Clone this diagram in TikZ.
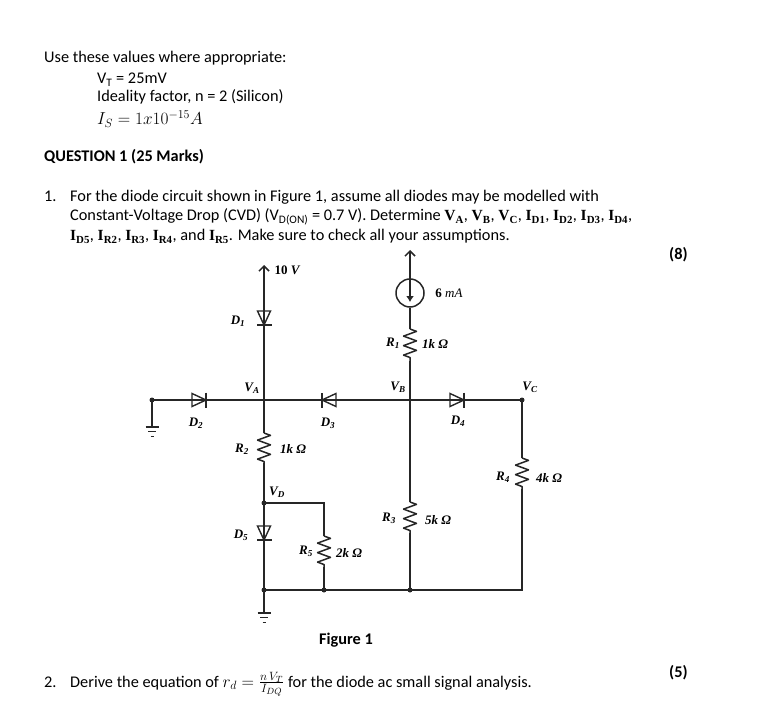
\documentclass[tikz,border=0pt]{standalone}
\usepackage{fontspec}
\setmainfont{Carlito}
\newfontfamily\serifbold{Liberation Serif}
\usetikzlibrary{arrows.meta,decorations.pathmorphing}
\newcommand{\sv}[2]{{\serifbold\bfseries\fontsize{15.5}{18}\selectfont #1\textsubscript{#2}}}
\newcommand{\lb}[2]{#1\textsubscript{#2}}
\tikzset{
    wire/.style={line width=1.5pt, black!85},
    res/.style={wire, line join=round, decorate, decoration={zigzag, segment length=9.5, amplitude=6.5}},
    up/.style={wire, -{Straight Barb[length=5pt, width=10pt]}},
    lbl/.style={inner sep=0pt, font=\serifbold\bfseries\itshape\fontsize{13}{15}\selectfont},
    txt/.style={inner sep=0pt, anchor=base west, font=\fontsize{16.3}{19}\selectfont},
    bold/.style={font=\bfseries\fontsize{16.3}{19}\selectfont},
    diode/.pic={
        \draw[line width=1.4pt, black!85] (-7,-6.5) -- (7,0) -- (-7,6.5) -- cycle;
        \draw[line width=1.6pt, black!85] (7,-7.5) -- (7,7.5);
    },
    earth/.pic={
        \draw[line width=1.3pt, black!85] (-6.5,0) -- (6.5,0);
        \draw[line width=1pt, black!85] (-4,4.5) -- (4,4.5);
        \draw[line width=1pt, black!85] (-1.5,9) -- (1.5,9);
    }
}
\begin{document}
\begin{tikzpicture}[x=1pt, y=-1pt]
    \useasboundingbox (0,0) rectangle (770,708);

    % Header text
    \node[txt] (t1) at (44,63) {Use these values where appropriate:};
    \node[txt] (t2) at (97,84) {V\textsubscript{T} = 25mV};
    \node[txt] (t3) at (97,102) {Ideality factor, n = 2 (Silicon)};
    \node[txt, font=\fontsize{17.5}{20}\selectfont] (t4) at (97,125) {$I_S = 1x10^{-15}A$};
    \node[txt, bold] (t5) at (44,162) {QUESTION 1 (25 Marks)};

    % Question 1
    \node[txt] (q1) at (44,202) {1.};
    \node[txt] (q1a) at (70,202) {For the diode circuit shown in Figure 1, assume all diodes may be modelled with};
    \node[txt] (q1b) at (70,221) {Constant-Voltage Drop (CVD) (V\textsubscript{D(ON)} = 0.7 V). Determine \sv{V}{A}, \sv{V}{B}, \sv{V}{C}, \sv{I}{D1}, \sv{I}{D2}, \sv{I}{D3}, \sv{I}{D4},};
    \node[txt] (q1c) at (70,241) {\sv{I}{D5}, \sv{I}{R2}, \sv{I}{R3}, \sv{I}{R4}, and \sv{I}{R5}. Make sure to check all your assumptions.};
    \node[txt, bold] (m8) at (669,260) {(8)};

    % Nodes of the circuit
    \coordinate (gl) at (152,400);
    \coordinate (gltop) at (152,427);
    \coordinate (va) at (264,400);
    \coordinate (vb) at (410,400);
    \coordinate (vc) at (522,400);
    \coordinate (vd) at (264,503);
    \coordinate (r5in) at (324,503);
    \coordinate (bl) at (264,590);
    \coordinate (bm) at (324,590);
    \coordinate (br) at (410,590);
    \coordinate (bc) at (522,590);
    \coordinate (gb) at (264,613);
    \coordinate (vdd) at (264,265);
    \coordinate (itop) at (410,250);
    \coordinate (iarrow) at (410,302);
    \coordinate (r1a) at (410,329);
    \coordinate (r1b) at (410,361);
    \coordinate (r2a) at (264,433);
    \coordinate (r2b) at (264,463);
    \coordinate (r3a) at (410,502);
    \coordinate (r3b) at (410,533);
    \coordinate (r4a) at (522,458);
    \coordinate (r4b) at (522,489);
    \coordinate (r5a) at (324,536);
    \coordinate (r5b) at (324,567);
    \node[circle, draw, wire, minimum size=28pt, inner sep=0pt] (isrc) at (410,293) {};

    % Wires
    \draw[up] (va) -- (vdd);
    \draw[up] (isrc.north) -- (itop);
    \draw[wire, -{Latex[length=6pt, width=8pt]}] (isrc.north) -- (iarrow);
    \draw[wire] (isrc.south) -- (r1a);
    \draw[wire] (r1b) -- (vb);
    \draw[wire] (gltop) -- (gl) -- (vc) -- (r4a);
    \draw[wire] (va) -- (r2a);
    \draw[wire] (r2b) -- (gb);
    \draw[wire] (vd) -- (r5in) -- (r5a);
    \draw[wire] (r5b) -- (bm);
    \draw[wire] (vb) -- (r3a);
    \draw[wire] (r3b) -- (br);
    \draw[wire] (r4b) -- (bc) -- (bl);

    % Resistors
    \draw[res] (r1a) -- (r1b);
    \draw[res] (r2a) -- (r2b);
    \draw[res] (r3a) -- (r3b);
    \draw[res] (r4a) -- (r4b);
    \draw[res] (r5a) -- (r5b);

    % Diodes
    \pic[rotate=-90] (d1) at (264,318) {diode};
    \pic (d2) at (199,400) {diode};
    \pic[rotate=180] (d3) at (329,400) {diode};
    \pic (d4) at (457,400) {diode};
    \pic[rotate=-90] (d5) at (264,533) {diode};

    % Grounds
    \pic (g1) at (gltop) {earth};
    \pic (g2) at (gb) {earth};

    % Dots
    \foreach \p in {gl,vc,vd,bl,bm,br}
        \fill[black!85] (\p) circle (2.5);
    \foreach \p in {va,vb}
        \fill[black!85] (\p) circle (1.6);

    % Labels
    \node[lbl] (l10v) at (287,270) {\upshape 10 \itshape V};
    \node[lbl] (l6ma) at (449,293) {\upshape 6 \itshape\mdseries mA};
    \node[lbl] (ld1) at (238,321) {\lb{D}{1}};
    \node[lbl] (ld2) at (196,423) {\lb{D}{2}};
    \node[lbl] (ld3) at (328,423) {\lb{D}{3}};
    \node[lbl] (ld4) at (458,421) {\lb{D}{4}};
    \node[lbl] (ld5) at (241,535) {\lb{D}{5}};
    \node[lbl] (lr1) at (393,343) {\lb{R}{1}};
    \node[lbl] (lr2) at (242,449) {\lb{R}{2}};
    \node[lbl] (lr3) at (389,518) {\lb{R}{3}};
    \node[lbl] (lr4) at (503,477) {\lb{R}{4}};
    \node[lbl] (lr5) at (306,551) {\lb{R}{5}};
    \node[lbl] (vr1) at (435,344) {1k Ω};
    \node[lbl] (vr2) at (293,449) {1k Ω};
    \node[lbl] (vr3) at (438,520) {5k Ω};
    \node[lbl] (vr4) at (549,478) {4k Ω};
    \node[lbl] (vr5) at (349,553) {2k Ω};
    \node[lbl] (lva) at (252,388) {\lb{V}{A}};
    \node[lbl] (lvb) at (398,387) {\lb{V}{B}};
    \node[lbl] (lvc) at (530,387) {\lb{V}{C}};
    \node[lbl] (lvd) at (277,492) {\lb{V}{D}};
    \node[inner sep=0pt, bold] (fig) at (346,640) {Figure 1};

    % Question 2
    \node[txt] (q2) at (44,687) {2.};
    \node[txt] (q2a) at (70,687) {Derive the equation of \fontsize{18}{20}\selectfont$r_d = \frac{n\,V_T}{I_{DQ}}$\fontsize{16.3}{19}\selectfont{} for the diode ac small signal analysis.};
    \node[txt, bold] (m5) at (669,677) {(5)};
\end{tikzpicture}
\end{document}
